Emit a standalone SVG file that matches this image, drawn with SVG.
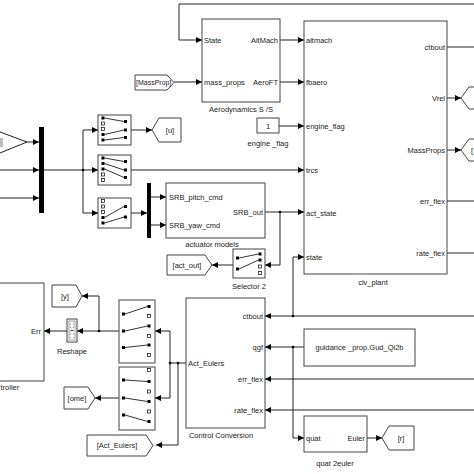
<svg xmlns="http://www.w3.org/2000/svg" width="474" height="474" viewBox="0 0 474 474">
<style>
.b{fill:#fff;stroke:#444;stroke-width:1}
.w{fill:none;stroke:#222;stroke-width:1}
.t{font-family:"Liberation Sans",Arial,sans-serif;font-size:7.5px;fill:#222}
.m{text-anchor:middle}
.e{text-anchor:end}
.f{fill:#000}
.h{fill:#fff;stroke:#000;stroke-width:0.7}
.k{stroke:#000;stroke-width:0.8;fill:none}
</style>
<defs>
<marker id="a" viewBox="0 0 8 8" refX="8" refY="4" markerWidth="7" markerHeight="6" orient="auto" markerUnits="userSpaceOnUse"><path d="M0,0L8,4L0,8z" fill="#000"/></marker>
</defs>
<rect width="474" height="474" fill="#fff"/>

<g id="connectors" class="w">
<path d="M474,4H179V40H202" marker-end="url(#a)"/>
<path d="M174,82H202" marker-end="url(#a)"/>
<path d="M280,40H304" marker-end="url(#a)"/>
<path d="M280,82H304" marker-end="url(#a)"/>
<path d="M279,126H304" marker-end="url(#a)"/>
<path d="M27,142H39" marker-end="url(#a)"/>
<path d="M0,170H39" marker-end="url(#a)"/>
<path d="M0,198H39" marker-end="url(#a)"/>
<path d="M44,170H98" marker-end="url(#a)"/>
<path d="M83,170V130H98" marker-end="url(#a)"/>
<path d="M83,170V213H98" marker-end="url(#a)"/>
<path d="M131,130H152" marker-end="url(#a)"/>
<path d="M131,170H304" marker-end="url(#a)"/>
<path d="M131,213H147" marker-end="url(#a)"/>
<path d="M151,197H166" marker-end="url(#a)"/>
<path d="M151,225H166" marker-end="url(#a)"/>
<path d="M265,212H304" marker-end="url(#a)"/>
<path d="M280,212V265H265" marker-end="url(#a)"/>
<path d="M233,265H212" marker-end="url(#a)"/>
<path d="M447,47H474"/>
<path d="M447,98H461" marker-end="url(#a)"/>
<path d="M447,150H461" marker-end="url(#a)"/>
<path d="M447,201H474"/>
<path d="M447,253H474"/>
<path d="M474,316H265" marker-end="url(#a)"/>
<path d="M293,316V257H304" marker-end="url(#a)"/>
<path d="M304,347H265" marker-end="url(#a)"/>
<path d="M293,347V438H304" marker-end="url(#a)"/>
<path d="M474,379H265" marker-end="url(#a)"/>
<path d="M474,410H265" marker-end="url(#a)"/>
<path d="M367,438H382" marker-end="url(#a)"/>
<path d="M186,363H170"/>
<path d="M170,363V331H155" marker-end="url(#a)"/>
<path d="M170,363V398H155" marker-end="url(#a)"/>
<path d="M178,363V445H156" marker-end="url(#a)"/>
<path d="M119,331H77" marker-end="url(#a)"/>
<path d="M99,331V296H82" marker-end="url(#a)"/>
<path d="M67,331H44" marker-end="url(#a)"/>
<path d="M119,398H95" marker-end="url(#a)"/>
<g fill="#000" stroke="none">
<circle cx="83" cy="170" r="1.3"/><circle cx="280" cy="212" r="1.3"/>
<circle cx="293" cy="316" r="1.3"/><circle cx="293" cy="347" r="1.3"/>
<circle cx="170" cy="363" r="1.3"/><circle cx="178" cy="363" r="1.3"/>
<circle cx="99" cy="331" r="1.3"/>
</g>
</g>

<g id="gain">
<path class="w" d="M0,132L27,142L0,153"/>
<rect x="0" y="138" width="3" height="9" fill="#bbb"/>
</g>
<g id="mux1"><rect class="f" x="39" y="127" width="5" height="86"/></g>
<g id="mux2"><rect class="f" x="147" y="183" width="4" height="55"/></g>

<g id="aero">
<rect class="b" x="202" y="19" width="78" height="83"/>
<text class="t" x="204" y="42.6">State</text>
<text class="t" x="204" y="84.6">mass_props</text>
<text class="t e" x="278" y="42.6">AltMach</text>
<text class="t e" x="278" y="84.6">AeroFT</text>
<text class="t m" x="241" y="111.6">Aerodynamics S /S</text>
</g>

<g id="massprop">
<path class="b" d="M135,75H167L174,82.5L167,90H135Z"/>
<text class="t" x="136" y="85" style="font-size:7px">[MassProp]</text>
</g>

<g id="engine">
<rect class="b" x="257" y="118" width="22" height="15"/>
<text class="t m" x="268" y="128.6">1</text>
<text class="t m" x="268" y="145.6">engine _flag</text>
</g>

<g id="plant">
<rect class="b" x="304" y="21" width="143" height="253"/>
<text class="t" x="306" y="42.6">altmach</text>
<text class="t" x="306" y="84.6">fbaero</text>
<text class="t" x="306" y="128.6">engine_flag</text>
<text class="t" x="306" y="172.6">trcs</text>
<text class="t" x="306" y="215.6">act_state</text>
<text class="t" x="306" y="259.6">state</text>
<text class="t e" x="445" y="49.6">ctbout</text>
<text class="t e" x="445" y="100.6">Vrel</text>
<text class="t e" x="445" y="152.6">MassProps</text>
<text class="t e" x="445" y="203.6">err_flex</text>
<text class="t e" x="445" y="255.6">rate_flex</text>
<text class="t m" x="373" y="284.6">clv_plant</text>
</g>

<g id="goto_vrel"><path class="b" d="M461,98L469,87H480V109H469Z"/></g>
<g id="goto_massprops"><path class="b" d="M461,150L469,139H480V161H469Z"/><text class="t" x="471" y="153">[</text></g>

<g id="sel1">
<rect class="b" x="98" y="115" width="33" height="30"/>
<rect class="f" x="101.5" y="116.5" width="3" height="3"/>
<rect class="h" x="101.5" y="122" width="3" height="3"/>
<rect class="h" x="101.5" y="127.5" width="3" height="3"/>
<rect class="f" x="101.5" y="133" width="3" height="3"/>
<rect class="f" x="101.5" y="138.5" width="3" height="3"/>
<rect class="f" x="124" y="120" width="3" height="3"/>
<rect class="f" x="124" y="128.5" width="3" height="3"/>
<rect class="f" x="124" y="136" width="3" height="3"/>
<path class="k" d="M104.5,118L124,121.5M104.5,134.5L124,130M104.5,140L124,137.5"/>
</g>
<g id="sel2">
<rect class="b" x="98" y="155" width="33" height="30"/>
<rect class="f" x="101.5" y="156.5" width="3" height="3"/>
<rect class="f" x="101.5" y="162" width="3" height="3"/>
<rect class="f" x="101.5" y="167.5" width="3" height="3"/>
<rect class="h" x="101.5" y="173" width="3" height="3"/>
<rect class="h" x="101.5" y="178.5" width="3" height="3"/>
<rect class="f" x="124" y="160" width="3" height="3"/>
<rect class="f" x="124" y="168.5" width="3" height="3"/>
<rect class="f" x="124" y="176" width="3" height="3"/>
<path class="k" d="M104.5,158L124,161.5M104.5,163.5L124,170M104.5,169L124,177.5"/>
</g>
<g id="sel3">
<rect class="b" x="98" y="198" width="33" height="30"/>
<rect class="h" x="101.5" y="199.5" width="3" height="3"/>
<rect class="h" x="101.5" y="205" width="3" height="3"/>
<rect class="h" x="101.5" y="210.5" width="3" height="3"/>
<rect class="f" x="101.5" y="216" width="3" height="3"/>
<rect class="f" x="101.5" y="221.5" width="3" height="3"/>
<rect class="f" x="124" y="205" width="3" height="3"/>
<rect class="f" x="124" y="215.5" width="3" height="3"/>
<path class="k" d="M104.5,217.5L124,206.5M104.5,223L124,217"/>
</g>

<g id="goto_u">
<path class="b" d="M152,130L159,118H181V142H159Z"/>
<text class="t m" x="170" y="132.6">[u]</text>
</g>

<g id="actuator">
<rect class="b" x="166" y="183" width="99" height="55"/>
<text class="t" x="169" y="199.6">SRB_pitch_cmd</text>
<text class="t" x="169" y="227.6">SRB_yaw_cmd</text>
<text class="t e" x="263" y="214.6">SRB_out</text>
<text class="t m" x="212" y="246.6">actuator models</text>
</g>

<g id="selector2">
<rect class="b" x="233" y="249" width="32" height="29"/>
<rect class="f" x="236" y="256.5" width="3" height="3"/>
<rect class="f" x="236" y="267.5" width="3" height="3"/>
<rect class="f" x="258.5" y="252.5" width="3" height="3"/>
<rect class="f" x="258.5" y="258.5" width="3" height="3"/>
<rect class="h" x="258.5" y="265" width="3" height="3"/>
<rect class="h" x="258.5" y="271.5" width="3" height="3"/>
<path class="k" d="M239,258L258.5,254M239,269L258.5,260"/>
<text class="t m" x="249" y="288.6">Selector 2</text>
</g>

<g id="goto_act_out">
<path class="b" d="M167,255H205L212,265L205,275H167Z"/>
<text class="t m" x="187" y="267.6">[act_out]</text>
</g>

<g id="controller">
<rect class="b" x="-10" y="283" width="54" height="98"/>
<text class="t e" x="41" y="333.6">Err</text>
<text class="t" x="0.5" y="389.6">troller</text>
</g>

<g id="reshape">
<rect class="b" x="67" y="319" width="10" height="23"/>
<rect x="69" y="321" width="6" height="19" fill="none" stroke="#444" stroke-width="0.5"/>
<path d="M70.5,323V338M73.5,323V338" stroke="#666" stroke-width="0.6" stroke-dasharray="1.5,2"/>
<circle cx="72" cy="330.5" r="0.8" fill="#000"/>
<text class="t m" x="72" y="353.6">Reshape</text>
</g>

<g id="goto_y">
<path class="b" d="M52,285H76L82,296L76,307H52Z"/>
<text class="t m" x="65" y="298.6">[y]</text>
</g>

<g id="selA">
<rect class="b" x="119" y="300" width="36" height="63"/>
<rect class="f" x="122" y="312.5" width="3" height="3"/>
<rect class="f" x="122" y="329.5" width="3" height="3"/>
<rect class="f" x="122" y="346" width="3" height="3"/>
<rect class="f" x="147.5" y="305" width="3" height="3"/>
<rect class="h" x="147.5" y="314.5" width="3" height="3"/>
<rect class="f" x="147.5" y="324.5" width="3" height="3"/>
<rect class="h" x="147.5" y="334.5" width="3" height="3"/>
<rect class="f" x="147.5" y="343.5" width="3" height="3"/>
<rect class="h" x="147.5" y="353.5" width="3" height="3"/>
<path class="k" d="M125,314L147.5,306.5M125,331L147.5,326M125,347.5L147.5,345"/>
</g>
<g id="selB">
<rect class="b" x="119" y="367" width="36" height="63"/>
<rect class="f" x="122" y="378.5" width="3" height="3"/>
<rect class="f" x="122" y="396.5" width="3" height="3"/>
<rect class="f" x="122" y="413.5" width="3" height="3"/>
<rect class="h" x="147.5" y="368.5" width="3" height="3"/>
<rect class="f" x="147.5" y="380" width="3" height="3"/>
<rect class="h" x="147.5" y="390" width="3" height="3"/>
<rect class="f" x="147.5" y="400" width="3" height="3"/>
<rect class="h" x="147.5" y="410" width="3" height="3"/>
<rect class="f" x="147.5" y="420" width="3" height="3"/>
<path class="k" d="M125,380L147.5,381.5M125,398L147.5,401.5M125,415L147.5,421.5"/>
</g>

<g id="goto_ome">
<path class="b" d="M64,387H88L95,398L88,409H64Z"/>
<text class="t m" x="77" y="400.6">[ome]</text>
</g>

<g id="goto_act_eulers">
<path class="b" d="M87,435H146L153,445.5L146,456H87Z"/>
<text class="t m" x="117" y="448.1">[Act_Eulers]</text>
</g>

<g id="control_conversion">
<rect class="b" x="186" y="298" width="79" height="130"/>
<text class="t e" x="263" y="318.6">ctbout</text>
<text class="t e" x="263" y="349.6">qgf</text>
<text class="t e" x="263" y="381.6">err_flex</text>
<text class="t e" x="263" y="412.6">rate_flex</text>
<text class="t" x="188" y="365.6">Act_Eulers</text>
<text class="t m" x="221" y="437.6">Control Conversion</text>
</g>

<g id="guidance">
<rect class="b" x="304" y="329" width="111" height="37"/>
<text class="t m" x="359.5" y="349.6">guidance _prop.Gud_Qi2b</text>
</g>

<g id="quat2euler">
<rect class="b" x="304" y="416" width="63" height="36"/>
<text class="t" x="306" y="440.6">quat</text>
<text class="t e" x="365" y="440.6">Euler</text>
<text class="t m" x="335" y="465.6">quat 2euler</text>
</g>

<g id="goto_r">
<path class="b" d="M382,438L389,426H414V450H389Z"/>
<text class="t m" x="401" y="440.6">[r]</text>
</g>
</svg>
